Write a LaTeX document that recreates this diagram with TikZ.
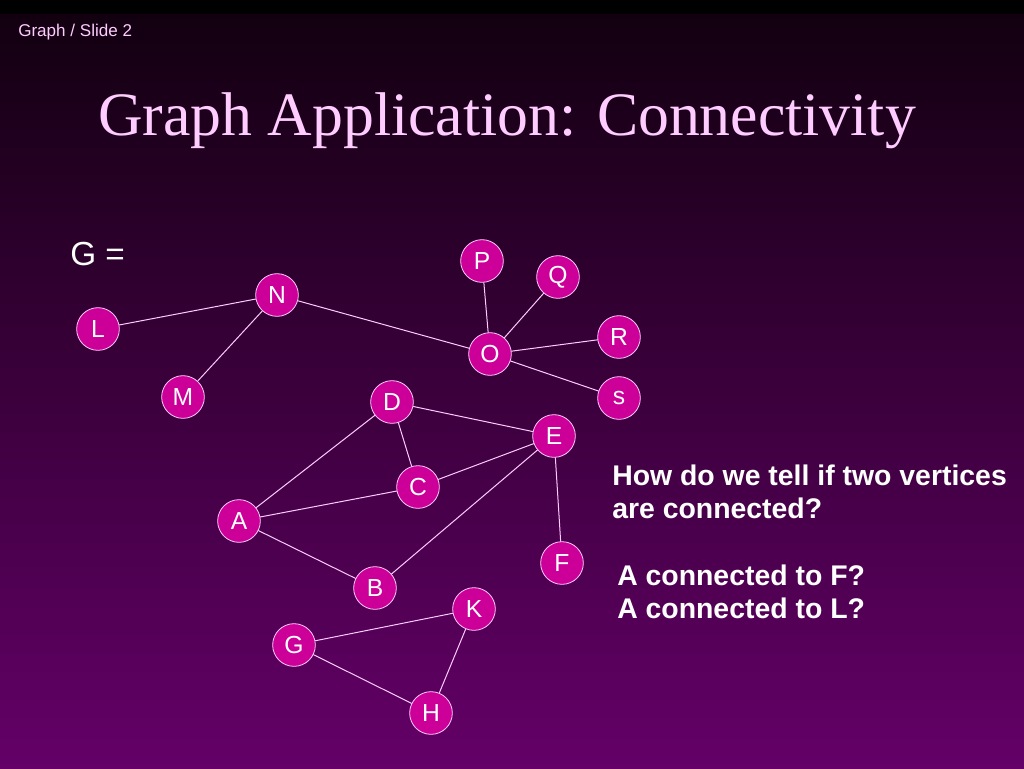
\documentclass[tikz,border=0pt]{standalone}
\usepackage{fontspec}
\setmainfont{Liberation Sans}
\newfontfamily\titlefont{Liberation Serif}
\definecolor{bgtop}{HTML}{120010}
\definecolor{bgbot}{HTML}{640068}
\definecolor{nodepink}{HTML}{CC0099}
\definecolor{edgepink}{HTML}{FFCCFF}
\begin{document}
\begin{tikzpicture}[x=0.75pt,y=-0.75pt,line cap=round,line join=round,
  vertex/.style={circle,fill=nodepink,draw=edgepink,line width=0.6pt,minimum size=32pt,inner sep=0pt,text=white,font=\fontsize{18.5}{18.5}\selectfont},
  edge/.style={draw=edgepink,line width=0.75pt}]
  % background
  \fill[black] (0,0) rectangle (1024,14);
  \shade[top color=bgtop,bottom color=bgbot] (0,14) rectangle (1024,768);
  \useasboundingbox (0,0) rectangle (1024,768);
  % header and title
  \node[anchor=base west,text=edgepink,inner sep=0pt,font=\fontsize{12.8}{12.8}\selectfont] (slide) at (18,36) {Graph / Slide 2};
  \node[anchor=base,text=edgepink,inner sep=0pt,font=\titlefont\fontsize{46.3}{46.3}\selectfont] (title) at (507,135) {Graph Application: Connectivity};
  \node[anchor=base west,text=white,inner sep=0pt,font=\fontsize{25}{25}\selectfont] (geq) at (70,265) {G =};
  % vertices
  \node[vertex] (P) at (482,261) {P};
  \node[vertex] (Q) at (558,277) {Q};
  \node[vertex] (N) at (277,295) {N};
  \node[vertex] (L) at (98,329) {L};
  \node[vertex] (R) at (619,337) {R};
  \node[vertex] (O) at (490,354) {O};
  \node[vertex] (M) at (183,397) {M};
  \node[vertex] (S) at (619,398) {s};
  \node[vertex] (D) at (392,402) {D};
  \node[vertex] (E) at (554,436) {E};
  \node[vertex] (C) at (418,487) {C};
  \node[vertex] (A) at (239,521) {A};
  \node[vertex] (F) at (562,563) {F};
  \node[vertex] (B) at (375,588) {B};
  \node[vertex] (K) at (474,609) {K};
  \node[vertex] (G) at (294,645) {G};
  \node[vertex] (H) at (431,713) {H};
  % edges
  \foreach \u/\v in {L/N,N/M,N/O,O/P,O/Q,O/R,O/S,D/E,D/C,D/A,A/C,C/E,E/F,E/B,A/B,G/K,G/H,K/H}
    {\draw[edge] (\u) -- (\v);}
  % questions
  \begin{scope}[every node/.style={anchor=base west,text=white,inner sep=0pt,font=\bfseries\fontsize{21.3}{21.3}\selectfont}]
    \node (q1) at (612,485) {How do we tell if two vertices};
    \node (q2) at (612,518) {are connected?};
    \node (q3) at (617,585) {A connected to F?};
    \node (q4) at (617,618) {A connected to L?};
  \end{scope}
\end{tikzpicture}
\end{document}
